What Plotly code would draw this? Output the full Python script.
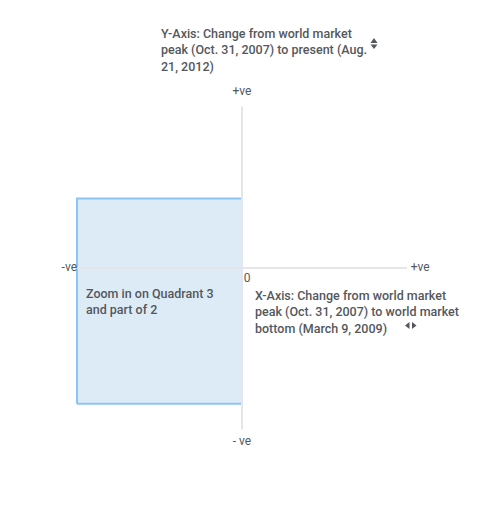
import plotly.graph_objects as go

# axis extents (in "change" units, origin at world market peak)
axis_x = [-1.0, 1.0]
axis_y = [-1.0, 1.0]
# highlighted zoom region: quadrant 3 and part of 2
zoom_x = [-1.0, 0.0]
zoom_y = [-0.84, 0.43]
end_labels = ["-ve", "+ve", "- ve", "+ve"]
origin_label = "0"

W, H = 483, 505
OFF = 8  # page body margin
grey = "#54585c"
font = "Roboto, Arial, sans-serif"

fig = go.Figure()

# zoom rectangle
fig.add_trace(go.Scatter(
    x=[zoom_x[0], zoom_x[1], zoom_x[1], zoom_x[0], zoom_x[0]],
    y=[zoom_y[0], zoom_y[0], zoom_y[1], zoom_y[1], zoom_y[0]],
    mode="lines", fill="toself", fillcolor="#ddebf7",
    line=dict(color="#8cc4f6", width=2), hoverinfo="skip"))

# axes lines
fig.add_trace(go.Scatter(x=axis_x, y=[0, 0], mode="lines",
                         line=dict(color="#e3e6ea", width=2), hoverinfo="skip"))
fig.add_trace(go.Scatter(x=[0, 0], y=axis_y, mode="lines",
                         line=dict(color="#e3e6ea", width=2), hoverinfo="skip"))

# axis end labels
fig.add_trace(go.Scatter(
    x=[axis_x[0], axis_x[1] + 0.08, 0, 0],
    y=[0, 0, axis_y[0] - 0.08, axis_y[1] + 0.09],
    text=end_labels, mode="text",
    textposition=["middle left", "middle center", "middle center", "middle center"],
    textfont=dict(family=font, size=12, color=grey), hoverinfo="skip"))
fig.add_trace(go.Scatter(x=[0.01], y=[-0.03], text=[origin_label], mode="text",
                         textposition="bottom right",
                         textfont=dict(family=font, size=12, color=grey),
                         hoverinfo="skip"))

sx, sy = 165.0, 161.5
cx, cy = 242 - OFF, 268 - OFF
fig.update_xaxes(range=[-cx / sx, (W - cx) / sx], visible=False, fixedrange=True)
fig.update_yaxes(range=[-(H - cy) / sy, cy / sy], visible=False, fixedrange=True)


def note(text, px, py, size=12.5, weight=500):
    fig.add_annotation(text=text, x=(px - OFF) / W, y=1 - (py - OFF) / H,
                       xref="paper", yref="paper",
                       xanchor="left", yanchor="top", align="left", showarrow=False,
                       font=dict(family=font, size=size, color=grey, weight=weight))


def icon(points):
    # small triangle control glyphs, given in page pixels
    path = "M " + " L ".join(f"{(px - OFF) / W:.5f},{1 - (py - OFF) / H:.5f}"
                             for px, py in points) + " Z"
    fig.add_shape(type="path", path=path, xref="paper", yref="paper",
                  fillcolor=grey, line=dict(width=0))


note("Y-Axis: Change from world market<br>peak (Oct. 31, 2007) to present (Aug.<br>21, 2012)", 159, 24)
note("X-Axis: Change from world market<br>peak (Oct. 31, 2007) to world market<br>bottom (March 9, 2009)", 253, 286)
note("Zoom in on Quadrant 3<br>and part of 2", 84, 284)

icon([(374, 38), (370.5, 43), (377.5, 43)])
icon([(370.5, 44.5), (377.5, 44.5), (374, 49)])
icon([(405, 325.5), (409.5, 322), (409.5, 329)])
icon([(416.5, 325.5), (412, 322), (412, 329)])

fig.update_layout(width=W, height=H, margin=dict(l=0, r=0, t=0, b=0),
                  plot_bgcolor="white", paper_bgcolor="white", showlegend=False)

fig.write_html("out.html")
